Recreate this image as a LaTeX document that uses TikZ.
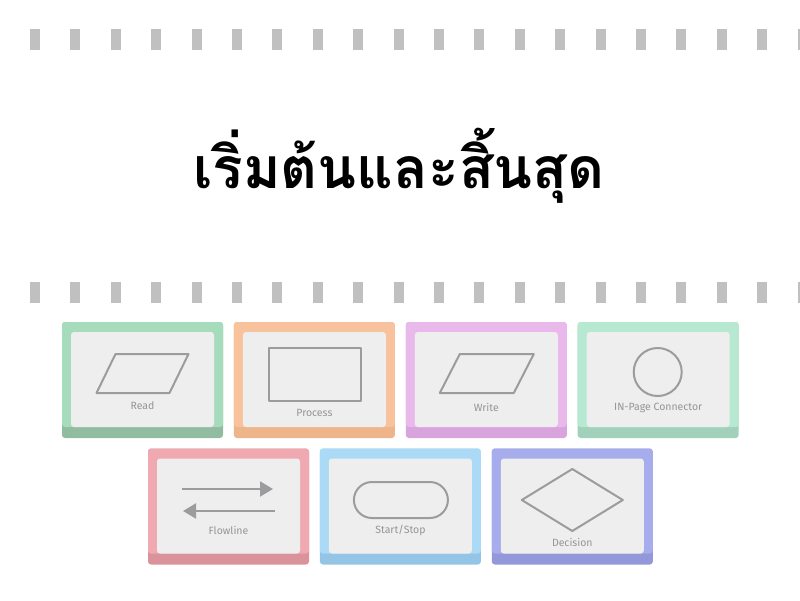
\documentclass[tikz,border=0pt]{standalone}
\usepackage{fontspec}
\newfontfamily\thaifont[Script=Thai]{Loma}
\newfontfamily\fclabelfont{Fira Sans}
\usetikzlibrary{arrows.meta, calc, positioning}
\definecolor{dashgray}{HTML}{C0C0C0}
\definecolor{cardgray}{HTML}{EEEEEE}
\definecolor{icongray}{HTML}{9C9C9E}
\definecolor{labelgray}{HTML}{959595}
\definecolor{greenL}{HTML}{A6DBBB}
\definecolor{greenD}{HTML}{92BC9F}
\definecolor{orangeL}{HTML}{F8C39C}
\definecolor{orangeD}{HTML}{EEB48A}
\definecolor{purpleL}{HTML}{E9B9EC}
\definecolor{purpleD}{HTML}{D9A3DE}
\definecolor{mintL}{HTML}{B6E8D2}
\definecolor{mintD}{HTML}{A2D1BB}
\definecolor{pinkL}{HTML}{F0A9B1}
\definecolor{pinkD}{HTML}{DA939B}
\definecolor{blueL}{HTML}{AADAF5}
\definecolor{blueD}{HTML}{94C4E6}
\definecolor{violetL}{HTML}{A7ACEC}
\definecolor{violetD}{HTML}{9398DA}
\tikzset{
  fcdash/.style={fill=dashgray},
  fccard/.style 2 args={rectangle, rounded corners=3pt, minimum width=161pt, minimum height=116pt,
    inner sep=0pt, fill=#2, path picture={
      \fill[#1] (path picture bounding box.north west) rectangle ([yshift=11pt]path picture bounding box.south east);
      \fill[cardgray] ([xshift=9pt, yshift=-10pt]path picture bounding box.north west)
        rectangle ([xshift=-9pt, yshift=11pt]path picture bounding box.south east);
    }},
  fcicon/.style={draw=icongray, line width=2pt, line join=round},
  fcarrow/.style={fcicon, -{Triangle[length=13pt, width=15pt]}},
  fclabel/.style={font=\fclabelfont\fontsize{10.5}{12}\selectfont, text=labelgray, inner sep=0pt},
}
\begin{document}
\begin{tikzpicture}[x=1pt, y=-1pt]
  \useasboundingbox (0,0) rectangle (800,600);

  % Dashed separators.
  \foreach \k in {0,...,19} {
    \fill[fcdash] (30+40.4*\k, 29) rectangle ++(10, 21);
    \fill[fcdash] (30+40.4*\k, 282) rectangle ++(10, 21);
  }

  % Title.
  \node[anchor=base, inner sep=0pt] (title) at (399,188)
    {\thaifont\bfseries\fontsize{57}{66}\selectfont เริ่มต้นและสิ้นสุด};

  % Cards, first row.
  \node[fccard={greenL}{greenD}] (read) at (142.5,380) {};
  \node[fccard={orangeL}{orangeD}, right=10.5pt of read] (process) {};
  \node[fccard={purpleL}{purpleD}, right=10.5pt of process] (write) {};
  \node[fccard={mintL}{mintD}, right=10.5pt of write] (connector) {};

  % Cards, second row.
  \node[fccard={pinkL}{pinkD}] (flowline) at (228.5,506.5) {};
  \node[fccard={blueL}{blueD}, right=10.5pt of flowline] (startstop) {};
  \node[fccard={violetL}{violetD}, right=10.5pt of startstop] (decision) {};

  % Icons.
  \draw[fcicon] ($(read)+(-27,-26)$) -- ($(read)+(46,-26)$) -- ($(read)+(27,13)$) -- ($(read)+(-46,13)$) -- cycle;
  \draw[fcicon] ($(process)+(-45.5,-32)$) rectangle ($(process)+(46.5,21)$);
  \draw[fcicon] ($(write)+(-26.5,-26)$) -- ($(write)+(47.5,-26)$) -- ($(write)+(27.5,13)$) -- ($(write)+(-46.5,13)$) -- cycle;
  \draw[fcicon] ($(connector)+(-0.5,-8)$) circle[radius=24];
  \draw[fcarrow] ($(flowline)+(-46.5,-17.5)$) -- ($(flowline)+(44.5,-17.5)$);
  \draw[fcarrow] ($(flowline)+(46.5,4.5)$) -- ($(flowline)+(-45.5,4.5)$);
  \draw[fcicon, rounded corners=18pt] ($(startstop)+(-46.5,-24.5)$) rectangle ($(startstop)+(47.5,11.5)$);
  \draw[fcicon] ($(decision)+(0,-37.5)$) -- ($(decision)+(50.5,-6.5)$) -- ($(decision)+(0,24.5)$) -- ($(decision)+(-50.5,-6.5)$) -- cycle;

  % Labels.
  \node[fclabel] (readlbl) at ($(read)+(0,26)$) {Read};
  \node[fclabel] (processlbl) at ($(process)+(0,33)$) {Process};
  \node[fclabel] (writelbl) at ($(write)+(0,27)$) {Write};
  \node[fclabel] (connectorlbl) at ($(connector)+(0,28)$) {IN-Page Connector};
  \node[fclabel] (flowlinelbl) at ($(flowline)+(0,23.5)$) {Flowline};
  \node[fclabel] (startstoplbl) at ($(startstop)+(0,23.5)$) {Start/Stop};
  \node[fclabel] (decisionlbl) at ($(decision)+(0,35.5)$) {Decision};
\end{tikzpicture}
\end{document}
